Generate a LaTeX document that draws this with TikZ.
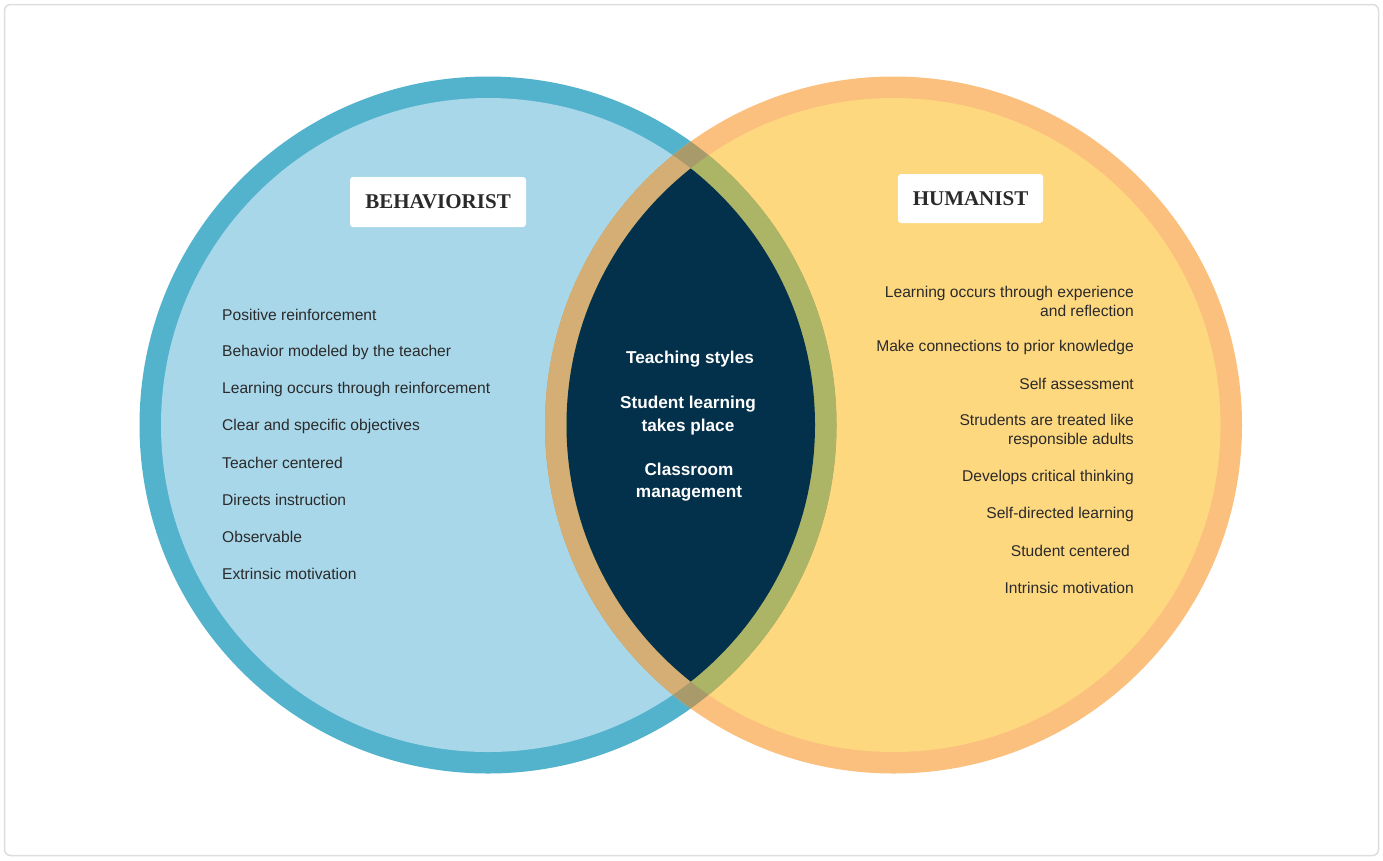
\documentclass[tikz,border=0pt]{standalone}
\usepackage{fontspec}
\setmainfont{Liberation Sans}
\newfontfamily\headfont{Liberation Serif}
\definecolor{frameC}{HTML}{DDDDDD}
\definecolor{tealC}{HTML}{54B3CC}
\definecolor{lblueC}{HTML}{A8D7EA}
\definecolor{orangeC}{HTML}{FBC07D}
\definecolor{yellowC}{HTML}{FED87F}
\definecolor{tanC}{HTML}{D4AE74}
\definecolor{oliveC}{HTML}{ACB566}
\definecolor{brownC}{HTML}{A99A6B}
\definecolor{navyC}{HTML}{03304A}
\definecolor{txtC}{HTML}{2A2A2A}
\begin{document}
\begin{tikzpicture}[x=1pt,y=-1pt,
  listL/.style={anchor=west,text=txtC,font=\fontsize{15.6}{19}\selectfont,inner sep=0pt},
  listR/.style={anchor=east,text=txtC,align=right,font=\fontsize{15.6}{19}\selectfont,inner sep=0pt},
  midtxt/.style={anchor=center,text=white,align=center,font=\bfseries\fontsize{17.2}{22.5}\selectfont,inner sep=0pt},
  headbox/.style={fill=white,rounded corners=3pt,text=txtC,font=\headfont\bfseries\fontsize{21}{22}\selectfont,inner sep=0pt}]
\useasboundingbox (0,0) rectangle (1383,860);
\draw[frameC,line width=1.5pt,rounded corners=6pt] (4.5,4.5) rectangle (1378.5,855.5);
\coordinate (cl) at (488,425);
\coordinate (cr) at (893.5,425);
% left circle
\fill[tealC] (cl) circle (348.5pt);
\fill[lblueC] (cl) circle (327pt);
% right circle
\fill[orangeC] (cr) circle (348.5pt);
\fill[yellowC] (cr) circle (327pt);
% overlaps
\begin{scope}
  \clip (cr) circle (348.5pt);
  \fill[brownC] (cl) circle (348.5pt);
  \fill[tanC] (cl) circle (327pt);
\end{scope}
\begin{scope}
  \clip (cr) circle (327pt);
  \fill[oliveC] (cl) circle (348.5pt);
  \fill[navyC] (cl) circle (327pt);
\end{scope}
% headings
\node[headbox,minimum width=176pt,minimum height=50pt] (hb) at (438,202) {BEHAVIORIST};
\node[headbox,minimum width=145pt,minimum height=49pt] (hh) at (970.5,198.5) {HUMANIST};
% left list
\node[listL] (l1) at (222,315) {Positive reinforcement};
\node[listL] (l2) at (222,352) {Behavior modeled by the teacher};
\node[listL] (l3) at (222,389) {Learning occurs through reinforcement};
\node[listL] (l4) at (222,426) {Clear and specific objectives};
\node[listL] (l5) at (222,463) {Teacher centered};
\node[listL] (l6) at (222,500) {Directs instruction};
\node[listL] (l7) at (222,537) {Observable};
\node[listL] (l8) at (222,574) {Extrinsic motivation};
% right list
\node[listR] (r1) at (1134,301.5) {Learning occurs through experience\\and reflection};
\node[listR] (r2) at (1134,347) {Make connections to prior knowledge};
\node[listR] (r3) at (1134,384) {Self assessment};
\node[listR] (r4) at (1134,430.5) {Strudents are treated like\hspace{3.5pt}\\responsible adults};
\node[listR] (r5) at (1134,477) {Develops critical thinking};
\node[listR] (r6) at (1134,514) {Self-directed learning};
\node[listR] (r7) at (1134,551) {Student centered\hspace{4pt}};
\node[listR] (r8) at (1134,588) {Intrinsic motivation};
% middle
\node[midtxt] (m1) at (690,359) {Teaching styles};
\node[midtxt] (m2) at (688,415.5) {Student learning\\takes place};
\node[midtxt] (m3) at (689,482) {Classroom\\management};
\end{tikzpicture}
\end{document}
